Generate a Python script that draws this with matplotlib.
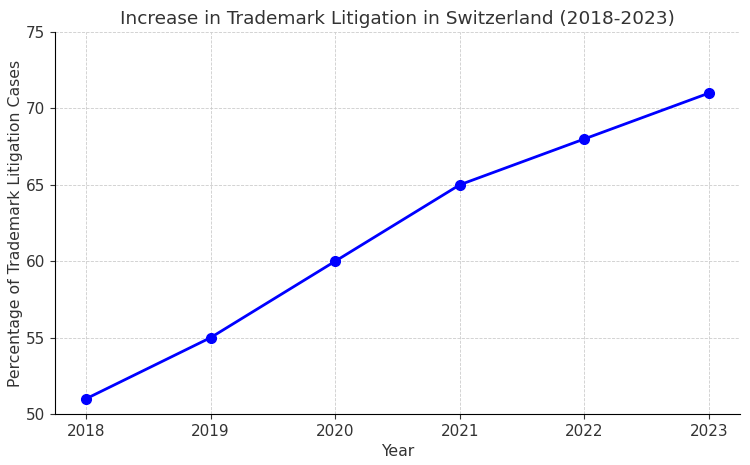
import matplotlib
matplotlib.use("Agg")
import matplotlib.pyplot as plt

years = [2018, 2019, 2020, 2021, 2022, 2023]
percentages = [51, 55, 60, 65, 68, 71]

fig = plt.figure(figsize=(7.5, 4.65), dpi=100)
ax = fig.add_axes([55/750, 1 - 414/465, (740-55)/750, (414-32)/465])
ax.plot(years, percentages, color="blue", linewidth=2, marker="o", markersize=7)
ax.set_ylim(50, 75)
ax.set_xlim(2017.75, 2023.25)
ax.set_xticks(years)
ax.set_title("Increase in Trademark Litigation in Switzerland (2018-2023)", fontsize=13.3, color="#333333")
ax.set_xlabel("Year", fontsize=11.3, color="#333333")
ax.set_ylabel("Percentage of Trademark Litigation Cases", fontsize=11.3, color="#333333", labelpad=2)
ax.tick_params(labelsize=11, colors="#333333")
ax.grid(True, linestyle="--", linewidth=0.6, color="#cccccc")
ax.spines["top"].set_visible(False)
ax.spines["right"].set_visible(False)
fig.savefig("out.png", dpi=100)
